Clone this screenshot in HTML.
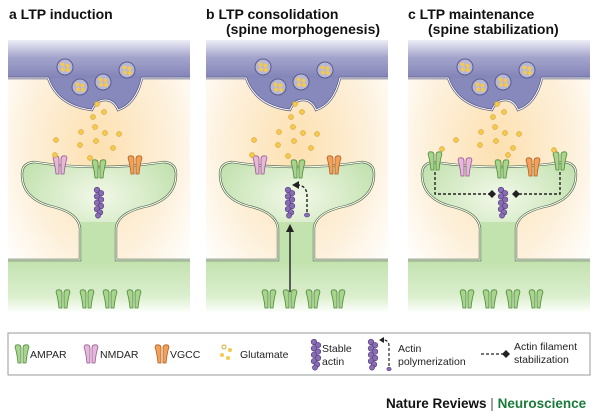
<!DOCTYPE html>
<html><head><meta charset="utf-8"><style>
body{margin:0;background:#fff}
svg{display:block}
text{font-family:"Liberation Sans",Arial,sans-serif}
</style></head><body>
<svg width="600" height="416" viewBox="0 0 600 416" xmlns="http://www.w3.org/2000/svg">
<defs>
<linearGradient id="pre" x1="0" y1="0" x2="0" y2="1">
<stop offset="0" stop-color="#eeeef6"/><stop offset="0.45" stop-color="#a4a5cc"/><stop offset="1" stop-color="#8384b8"/></linearGradient>
<radialGradient id="cleft" cx="0.5" cy="0.4" r="0.65">
<stop offset="0" stop-color="#fde0b0"/><stop offset="0.6" stop-color="#fdf0da"/><stop offset="1" stop-color="#ffffff"/></radialGradient>
<radialGradient id="head" cx="0.5" cy="0.35" r="0.6">
<stop offset="0" stop-color="#f2f8e8"/><stop offset="1" stop-color="#bfe0ab"/></radialGradient>
<linearGradient id="den" x1="0" y1="0" x2="0" y2="1">
<stop offset="0" stop-color="#c2e2ae"/><stop offset="0.7" stop-color="#dcefcf"/><stop offset="1" stop-color="#ffffff"/></linearGradient>
<g id="rec"><path d="M-6,0 Q-1,-1 -1,3 L-1,18 L-4,18 Q-5,8 -7,2 Z M6,0 Q1,-1 1,3 L1,18 L4,18 Q5,8 7,2 Z" stroke-width="0.8"/></g>
<g id="amp"><use href="#rec" fill="#a8d48e" stroke="#4d8a3a"/></g>
<g id="nmd"><use href="#rec" fill="#e6b8dc" stroke="#9a5a8e"/></g>
<g id="vgc"><use href="#rec" fill="#f2a05a" stroke="#b06020"/></g>
<g id="ves"><circle r="8" fill="#b7b8d8" stroke="#5a5b8a" stroke-width="1"/>
<circle cx="-2.5" cy="-2.5" r="2" fill="#f6c94a"/><circle cx="2.5" cy="-1.5" r="2" fill="#f6c94a"/><circle cx="-2" cy="2.5" r="2" fill="#f6c94a"/><circle cx="3" cy="3" r="2" fill="#f6c94a"/></g>
<g id="actin" fill="#8a6cb4" stroke="#4d3a7a" stroke-width="0.6">
<circle cx="-2" cy="0" r="2.8"/><circle cx="2" cy="3.2" r="2.8"/><circle cx="-2" cy="6.4" r="2.8"/><circle cx="2" cy="9.6" r="2.8"/><circle cx="-2" cy="12.8" r="2.8"/><circle cx="2" cy="16" r="2.8"/><circle cx="-2" cy="19.2" r="2.8"/><circle cx="1" cy="22.4" r="2.8"/><circle cx="-1" cy="25.6" r="2.6"/></g>
<g id="panel">
<rect x="0" y="40" width="182" height="273" fill="url(#cleft)"/>
<rect x="0" y="40" width="182" height="38" fill="url(#pre)"/>
<path d="M40,78 Q50,106 84,110 Q88,100 97,100 Q106,100 110,110 Q128,104 134,78 Z" fill="#8788bb"/>
<path d="M0,78 L40,78 Q50,106 84,110 Q88,100 97,100 Q106,100 110,110 Q128,104 134,78 L182,78" fill="none" stroke="#55567f" stroke-width="2.4"/>
<path d="M0,78 L40,78 Q50,106 84,110 Q88,100 97,100 Q106,100 110,110 Q128,104 134,78 L182,78" fill="none" stroke="#fff" stroke-width="1"/>
<use href="#ves" x="57" y="67"/><use href="#ves" x="72" y="87"/><use href="#ves" x="95" y="82"/><use href="#ves" x="119" y="70"/>
<rect x="0" y="260" width="182" height="53" fill="url(#den)"/>
<path d="M72,262 L72,228 Q70,212 42,206 Q14,198 14,174 Q14,163 26,162 Q90,172 156,162 Q168,163 168,174 Q168,198 140,206 Q110,212 108,228 L108,262 Z" fill="url(#head)"/>
<rect x="72" y="222" width="36" height="42" fill="#c2e2ae"/>
<path d="M0,260 L72,260 L72,228 Q70,212 42,206 Q14,198 14,174 Q14,163 26,162 Q90,172 156,162 Q168,163 168,174 Q168,198 140,206 Q110,212 108,228 L108,260 L182,260" fill="none" stroke="#55704a" stroke-width="2.4"/>
<path d="M0,260 L72,260 L72,228 Q70,212 42,206 Q14,198 14,174 Q14,163 26,162 Q90,172 156,162 Q168,163 168,174 Q168,198 140,206 Q110,212 108,228 L108,260 L182,260" fill="none" stroke="#fff" stroke-width="1"/>
</g>
<g id="glu" fill="#f6c94a" stroke="#c9962a" stroke-width="0.5">
<circle cx="89" cy="104" r="2.5"/><circle cx="85" cy="117" r="2.5"/><circle cx="96" cy="112" r="2.5"/><circle cx="87" cy="127" r="2.5"/><circle cx="73" cy="132" r="2.5"/><circle cx="97" cy="133" r="2.5"/><circle cx="111" cy="134" r="2.5"/><circle cx="48" cy="140" r="2.5"/><circle cx="72" cy="145" r="2.5"/><circle cx="88" cy="141" r="2.5"/><circle cx="105" cy="148" r="2.5"/></g>
</defs>

<!-- Panel a -->
<g transform="translate(8,0)">
<use href="#panel"/><use href="#glu"/>
<use href="#nmd" x="52" y="156"/><use href="#amp" x="91" y="160"/><use href="#vgc" x="127" y="156"/>
<circle cx="47" cy="155" r="2.5" fill="#f6c94a" stroke="#c9962a" stroke-width="0.5"/><circle cx="82" cy="158" r="2.5" fill="#f6c94a" stroke="#c9962a" stroke-width="0.5"/>
<use href="#actin" x="91" y="190"/>
<use href="#amp" x="55" y="290"/><use href="#amp" x="79" y="290"/><use href="#amp" x="102" y="290"/><use href="#amp" x="126" y="290"/>
</g>
<!-- Panel b -->
<g transform="translate(206,0)">
<use href="#panel"/><use href="#glu"/>
<use href="#nmd" x="54" y="156"/><use href="#amp" x="92" y="160"/><use href="#vgc" x="128" y="156"/>
<circle cx="46" cy="155" r="2.5" fill="#f6c94a" stroke="#c9962a" stroke-width="0.5"/><circle cx="82" cy="156" r="2.5" fill="#f6c94a" stroke="#c9962a" stroke-width="0.5"/>
<use href="#actin" x="84" y="190"/>
<line x1="84" y1="292" x2="84" y2="230" stroke="#222" stroke-width="1.4"/>
<path d="M80,232 L84,224 L88,232 Z" fill="#222"/>
<path d="M101,212 L101,196 Q101,186 92,185" fill="none" stroke="#222" stroke-width="1.4" stroke-dasharray="3,2"/>
<path d="M93,181 L86,185 L93,189 Z" fill="#222"/>
<ellipse cx="101" cy="215" rx="2.6" ry="2" fill="#8a6cb4" stroke="#4d3a7a" stroke-width="0.6"/>
<use href="#amp" x="63" y="290"/><use href="#amp" x="84" y="290"/><use href="#amp" x="107" y="290"/><use href="#amp" x="132" y="290"/>
</g>
<!-- Panel c -->
<g transform="translate(408,0)">
<use href="#panel"/><use href="#glu"/>
<use href="#amp" x="27" y="152"/><use href="#nmd" x="57" y="158"/><use href="#amp" x="94" y="160"/><use href="#vgc" x="125" y="158"/><use href="#amp" x="152" y="152"/>
<circle cx="34" cy="149" r="2.5" fill="#f6c94a" stroke="#c9962a" stroke-width="0.5"/><circle cx="100" cy="155" r="2.5" fill="#f6c94a" stroke="#c9962a" stroke-width="0.5"/><circle cx="146" cy="150" r="2.5" fill="#f6c94a" stroke="#c9962a" stroke-width="0.5"/>
<use href="#actin" x="95" y="190"/>
<path d="M27,172 L27,194 L82,194" fill="none" stroke="#222" stroke-width="1.4" stroke-dasharray="3,2"/>
<path d="M152,172 L152,194 L110,194" fill="none" stroke="#222" stroke-width="1.4" stroke-dasharray="3,2"/>
<path d="M80,194 L84,190 L88,194 L84,198 Z" fill="#222"/>
<path d="M104,194 L108,190 L112,194 L108,198 Z" fill="#222"/>
<use href="#amp" x="59" y="290"/><use href="#amp" x="82" y="290"/><use href="#amp" x="105" y="290"/><use href="#amp" x="128" y="290"/>
</g>

<!-- Titles -->
<text x="9" y="19" font-size="14" font-weight="bold" fill="#111">a  LTP induction</text>
<text x="206" y="19" font-size="14" font-weight="bold" fill="#111">b  LTP consolidation</text>
<text x="226" y="34" font-size="14" font-weight="bold" fill="#111">(spine morphogenesis)</text>
<text x="408" y="19" font-size="14" font-weight="bold" fill="#111">c  LTP maintenance</text>
<text x="428" y="34" font-size="14" font-weight="bold" fill="#111">(spine stabilization)</text>

<!-- Legend -->
<rect x="8" y="333" width="582" height="42" fill="#fff" stroke="#999" stroke-width="1"/>
<use href="#amp" x="22" y="345"/>
<text x="30" y="358" font-size="10.5" fill="#222">AMPAR</text>
<use href="#nmd" x="91" y="345"/>
<text x="100" y="358" font-size="10.5" fill="#222">NMDAR</text>
<use href="#vgc" x="162" y="345"/>
<text x="170" y="358" font-size="10.5" fill="#222">VGCC</text>
<g fill="#fff" stroke="#d9a830" stroke-width="1"><circle cx="224" cy="347" r="2"/></g>
<g fill="#f6c94a"><circle cx="230" cy="350" r="2"/><circle cx="222" cy="355" r="2"/><circle cx="228" cy="358" r="2"/></g>
<text x="240" y="358" font-size="10.5" fill="#222">Glutamate</text>
<use href="#actin" x="316" y="342"/>
<text x="322" y="352" font-size="10.5" fill="#222">Stable</text>
<text x="322" y="365" font-size="10.5" fill="#222">actin</text>
<use href="#actin" x="373" y="342"/>
<path d="M389,366 L389,346 Q389,340 383,340" fill="none" stroke="#222" stroke-width="1.2" stroke-dasharray="3,2"/>
<path d="M384,337 L379,340 L384,343 Z" fill="#222"/>
<ellipse cx="389" cy="369" rx="2.2" ry="1.8" fill="#8a6cb4" stroke="#4d3a7a" stroke-width="0.5"/>
<text x="398" y="352" font-size="10.5" fill="#222">Actin</text>
<text x="398" y="365" font-size="10.5" fill="#222">polymerization</text>
<line x1="481" y1="354" x2="503" y2="354" stroke="#222" stroke-width="1.3" stroke-dasharray="3,2"/>
<path d="M502,354 L506,350 L510,354 L506,358 Z" fill="#222"/>
<text x="514" y="350" font-size="10.5" fill="#222">Actin filament</text>
<text x="514" y="363" font-size="10.5" fill="#222">stabilization</text>

<text x="386" y="408" font-size="13.5" font-weight="bold" fill="#111">Nature Reviews <tspan fill="#555" font-weight="normal">|</tspan> <tspan fill="#1a7a3a">Neuroscience</tspan></text>
</svg>
</body></html>
